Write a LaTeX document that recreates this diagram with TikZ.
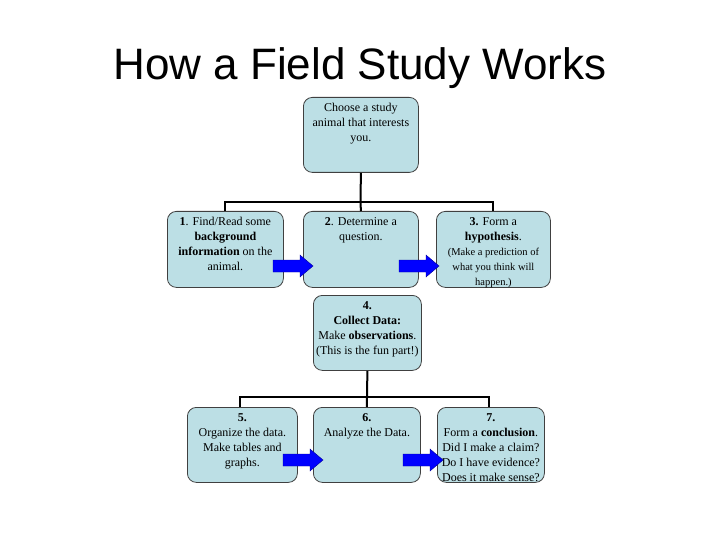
\documentclass[tikz,border=0pt]{standalone}
\usepackage{fontspec}
\setmainfont{Liberation Serif}
\newfontfamily\titlefont{Liberation Sans}
\begin{document}
\begin{tikzpicture}[x=1pt,y=-1pt,
  box/.style={draw=black!75,line width=0.8pt,fill=boxc,rounded corners=9pt,anchor=north west,inner sep=0pt},
  conn/.style={line width=2pt,black},
  barrow/.style={fill=blue,draw=blue!60!black,line width=0.4pt}]
\definecolor{boxc}{HTML}{BCDFE5}
\useasboundingbox (0,0) rectangle (720,540);
\node[font=\titlefont\fontsize{44}{48}\selectfont] (title) at (360,68) {How a Field Study Works};
\newcommand\bx[5]{\node[box,minimum width=#3,minimum height=#4] (#1) at #2 {};
  \node[anchor=north,align=center,inner sep=0pt,font=\fontsize{12}{15}\selectfont] (#1t) at ([yshift=-6pt]#1.north) {#5};}
\bx{top}{(303,97)}{115pt}{75pt}{Choose a study\\animal that interests\\you.}
\bx{b1}{(167,211)}{116pt}{76pt}{\textbf{1}. Find/Read some\\\textbf{background}\\\textbf{information} on the\\animal.}
\bx{b2}{(303,211)}{115pt}{76pt}{\textbf{2}. Determine a\\question.}
\bx{b3}{(436,211)}{114pt}{76pt}{\textbf{3.} Form a\\\textbf{hypothesis}.\\{\fontsize{10.5}{15}\selectfont (Make a prediction of}\\{\fontsize{10.5}{15}\selectfont what you think will}\\{\fontsize{10.5}{15}\selectfont happen.)}}
\bx{b4}{(313,295)}{108pt}{75pt}{\textbf{4.}\\\textbf{Collect Data:}\\Make \textbf{observations}.\\(This is the fun part!)}
\bx{b5}{(187,407)}{110pt}{75pt}{\textbf{5.}\\Organize the data.\\Make tables and\\graphs.}
\bx{b6}{(313,407)}{107pt}{75pt}{\textbf{6.}\\Analyze the Data.}
\bx{b7}{(437,407)}{107pt}{75pt}{\textbf{7.}\\Form a \textbf{conclusion}.\\Did I make a claim?\\Do I have evidence?\\Does it make sense?}
% connectors
\coordinate (j1) at (360.5,202);
\draw[conn] (top.south) -- (j1);
\draw[conn] (b1.north) |- (j1) -| (b3.north);
\draw[conn] (j1) -- (b2.north);
\coordinate (j2) at (367,397);
\draw[conn] (b4.south) -- (j2);
\draw[conn] ([xshift=-2pt]b5.north) |- (j2) -| ([xshift=-2pt]b7.north);
\draw[conn] (j2) -- (b6.north);
% arrows
\newcommand\barr[2]{\path[barrow] (#1,#2+5) -- (#1+27,#2+5) -- (#1+27,#2) -- (#1+40,#2+11) -- (#1+27,#2+22) -- (#1+27,#2+17) -- (#1,#2+17) -- cycle;}
\barr{273}{255}
\barr{399}{255}
\barr{283}{449}
\barr{403}{449}
\end{tikzpicture}
\end{document}
